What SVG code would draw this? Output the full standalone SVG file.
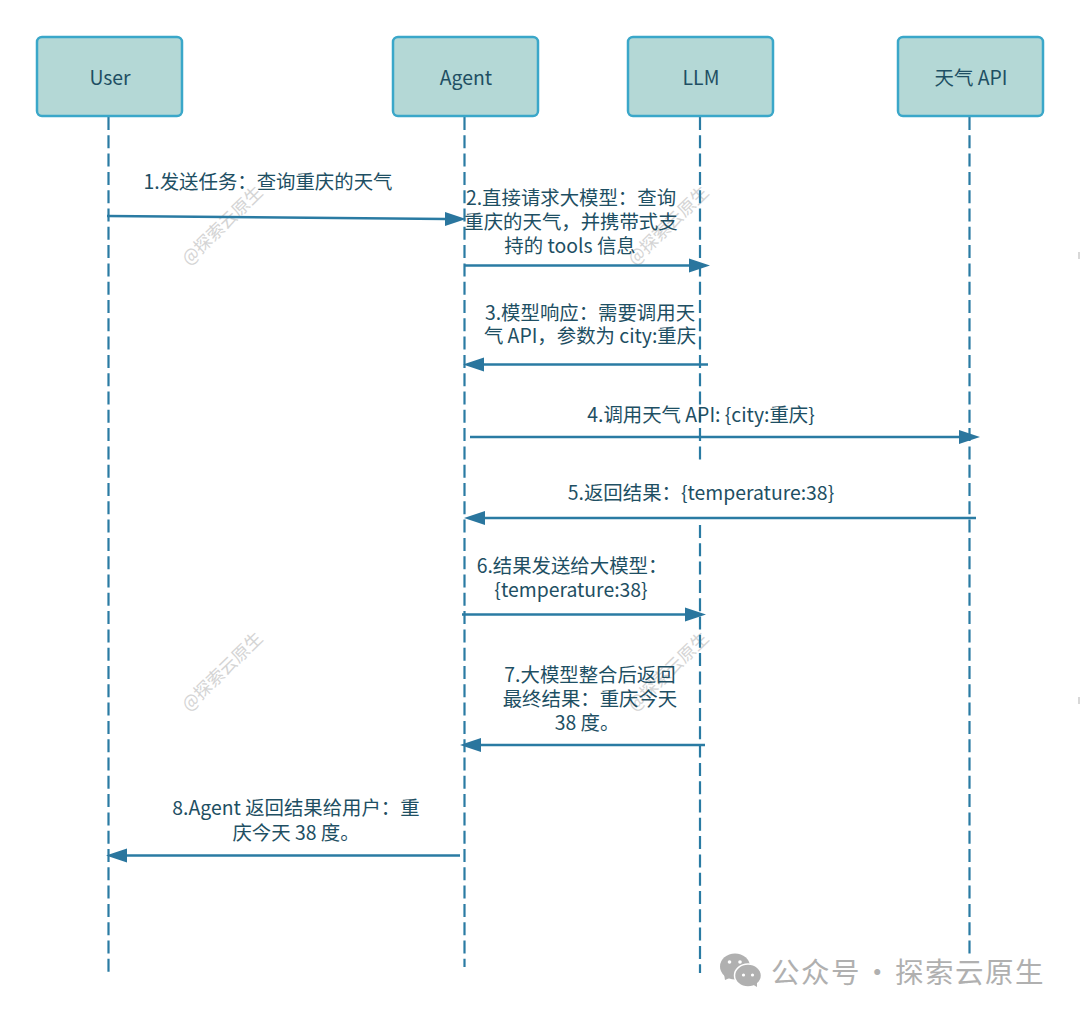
<svg xmlns="http://www.w3.org/2000/svg" width="1080" height="1015" viewBox="0 0 1080 1015">
<style>
.box{fill:#b4d8d6;stroke:#3aa7c9;stroke-width:2.5}
.life{fill:none;stroke:#2a7ba3;stroke-width:2.2;stroke-dasharray:13 5.300}
.msg{fill:none;stroke:#2a7ba3;stroke-width:2.500}
.head{fill:#2a769e}
text{font-family:"Noto Sans CJK SC","Noto Sans",sans-serif;font-size:19.400px;fill:#1e4f63;text-anchor:middle}
.wm{font-size:17.500px;fill:#d4d4d4;text-anchor:start}
.wx{font-size:28.500px;fill:#b0b0b0;text-anchor:start;letter-spacing:1.500px}
</style>
<rect width="1080" height="1015" fill="#fff"/>
<g id="watermarks">
<text class="wm" transform="translate(189 266) rotate(-44)">@探索云原生</text>
<text class="wm" transform="translate(635 266) rotate(-44)">@探索云原生</text>
<text class="wm" transform="translate(189 712) rotate(-44)">@探索云原生</text>
<text class="wm" transform="translate(635 712) rotate(-44)">@探索云原生</text>
<rect x="1078" y="252" width="2" height="7" fill="#d8d8d8"/>
<rect x="1078" y="697" width="2" height="7" fill="#d8d8d8"/>
</g>
<g id="lifelines">
<path class="life" d="M108.500 117V973"/>
<path class="life" d="M464.500 117V967"/>
<path class="life" d="M700 117V462"/>
<path class="life" d="M700 525V973"/>
<path class="life" d="M969.500 117V957"/>
</g>
<g id="connectors">
<path class="msg" d="M107 216L446 219"/><path class="head" d="M466 219L445 212V226Z"/>
<path class="msg" d="M465 265.500H692"/><path class="head" d="M710 265.500L689 258.500V272.500Z"/>
<path class="msg" d="M708 364.500H482"/><path class="head" d="M463 364.500L484 357.500V371.500Z"/>
<path class="msg" d="M470 437H962"/><path class="head" d="M980 437L959 430V444Z"/>
<path class="msg" d="M976 518H484"/><path class="head" d="M464 518L485 511V525Z"/>
<path class="msg" d="M462 614.500H688"/><path class="head" d="M706 614.500L685 607.500V621.500Z"/>
<path class="msg" d="M705 745H480"/><path class="head" d="M460 745L481 738V752Z"/>
<path class="msg" d="M460 855.500H125"/><path class="head" d="M106 855.500L127 848.500V862.500Z"/>
</g>
<g id="node-user"><rect class="box" x="37" y="37" width="145" height="79" rx="5"/><text x="110" y="85">User</text></g>
<g id="node-agent"><rect class="box" x="393" y="37" width="145" height="79" rx="5"/><text x="466" y="85">Agent</text></g>
<g id="node-llm"><rect class="box" x="628" y="37" width="145" height="79" rx="5"/><text x="701" y="85">LLM</text></g>
<g id="node-api"><rect class="box" x="898" y="37" width="145" height="79" rx="5"/><text x="971" y="85">天气 API</text></g>
<g id="labels">
<text x="268" y="189">1.发送任务：查询重庆的天气</text>
<text><tspan x="571" y="205">2.直接请求大模型：查询</tspan><tspan x="571" y="229">重庆的天气，并携带式支</tspan><tspan x="570" y="252.500">持的 tools 信息</tspan></text>
<text><tspan x="590" y="320">3.模型响应：需要调用天</tspan><tspan x="590" y="343">气 API，参数为 city:重庆</tspan></text>
<text x="701" y="422">4.调用天气 API: {city:重庆}</text>
<text x="701" y="500">5.返回结果：{temperature:38}</text>
<text><tspan x="572" y="573">6.结果发送给大模型：</tspan><tspan x="571" y="597">{temperature:38}</tspan></text>
<text><tspan x="590" y="682">7.大模型整合后返回</tspan><tspan x="590" y="706">最终结果：重庆今天</tspan><tspan x="587" y="730">38 度。</tspan></text>
<text><tspan x="296" y="815">8.Agent 返回结果给用户：重</tspan><tspan x="296" y="840">庆今天 38 度。</tspan></text>
</g>
<g id="footer">
<ellipse cx="735" cy="966.500" rx="15" ry="13" fill="#b0b0b0"/>
<path d="M724 974L725 980L732 977Z" fill="#b0b0b0"/>
<ellipse cx="748" cy="975.500" rx="13.500" ry="11.500" fill="#b0b0b0" stroke="#fff" stroke-width="1.500"/>
<path d="M752 984L757 987L757 982Z" fill="#b0b0b0"/>
<circle cx="729.500" cy="962" r="1.800" fill="#fff"/><circle cx="740" cy="962" r="1.800" fill="#fff"/>
<circle cx="743.500" cy="975" r="1.600" fill="#fff"/><circle cx="752.500" cy="975" r="1.600" fill="#fff"/>
<text class="wx" y="983"><tspan x="771">公众号</tspan><tspan x="863">·</tspan><tspan x="895">探索云原生</tspan></text>
</g>
</svg>
